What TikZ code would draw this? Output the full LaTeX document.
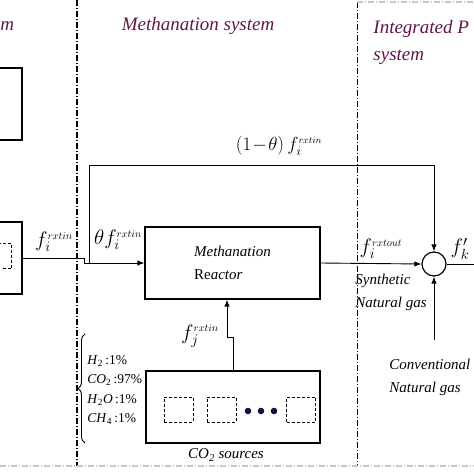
\RequirePackage{fix-cm}
\documentclass[tikz,border=0pt]{standalone}
\usepackage{fontspec}
\setmainfont{Liberation Serif}
\usepackage{amsmath}
\usetikzlibrary{arrows,arrows.meta,calc,positioning,decorations.pathreplacing}
\definecolor{sysred}{RGB}{98,22,72}
\definecolor{dotblue}{RGB}{12,20,70}

\begin{document}
\begin{tikzpicture}[x=1pt,y=-1pt,>={Latex[length=7pt,width=5.5pt]},line width=0.9pt]

   \tikzstyle{unit}=[draw,line width=1.3pt,inner sep=0pt]
   \tikzstyle{dbox}=[draw,densely dashed,line width=0.7pt,minimum width=29pt,minimum height=25pt,inner sep=0pt]
   \tikzstyle{title}=[text=sysred,font=\fontsize{19}{28}\selectfont\itshape,inner sep=0pt]
   \tikzstyle{flow}=[font=\fontsize{21}{24}\selectfont,inner sep=0pt]
   \tikzstyle{note}=[font=\fontsize{15}{23}\selectfont\itshape,align=left,inner sep=0pt]
   \tikzstyle{gas}=[font=\fontsize{13.5}{19.6}\selectfont,align=left,inner sep=0pt]
   \tikzstyle{divider}=[line width=1.2pt,dash pattern=on 6pt off 2pt on 1pt off 2pt]

   \useasboundingbox (0,0) rectangle (474,474);

   % system borders
   \draw[divider] (77,0) -- (77,466);
   \draw[divider,line width=0.9pt] (357,2) -- (357,466);
   \draw[divider,gray!45,line width=2pt] (0,466) -- (474,466);
   \draw[divider,gray!45,line width=2pt] (357,2) -- (474,2);

   % titles
   \node[title,anchor=west] at (0,26) (tleft){m};
   \node[title] at (198,26) (tmeth){Methanation system};
   \node[title,anchor=west] at (373,29) (tint){Integrated P};
   \node[title,anchor=west] at (373,57) (tsys){system};

   % units
   \node[unit,minimum width=62pt,minimum height=72pt] at (-9,104) (upA){};
   \node[unit,minimum width=62pt,minimum height=72pt] at (-9,258) (upB){};
   \node[dbox] at (-3,256) (upBin){};

   \node[unit,minimum width=175pt,minimum height=72pt,note,align=left] at (232.5,263) (reactor)
        {Methanation\\{\upshape Re}actor};

   \node[draw,circle,line width=1.2pt,minimum size=24pt,inner sep=0pt] at (434,264) (mixer){};

   \node[unit,minimum width=174pt,minimum height=72pt] at (233,407) (sources){};
   \node[dbox] at (178.5,409.5) (s1){};
   \node[dbox] at (221.5,409.5) (s2){};
   \node[dbox] at (301,409.5) (s3){};
   \foreach \x in {248,261,274}
      \fill[dotblue] (\x,411) circle (3.3pt);

   % streams
   \coordinate (step) at (84,258);
   \coordinate (split) at (89,263);
   \coordinate (bypass) at (89,165);
   \coordinate (outlet) at (480,264);
   \coordinate (ngin) at (434,340);
   \coordinate (jog) at (227,337);

   \draw (upB.east) -- (step) |- (split);
   \draw[->] (split) -- (reactor.west);
   \draw[->] (split) -- (bypass) -| (mixer.north);
   \draw[->] (reactor.east) -- (mixer.west);
   \draw (mixer.east) -- (outlet);
   \draw[->] (ngin) -- (mixer.south);
   \draw[->] (sources.north) |- (jog) -- (jog |- reactor.south);

   % stream labels
   \node[flow] at (54,242) (fin){$f_i^{\scriptscriptstyle rxtin}$};
   \node[flow] at (118,240) (fsplit){$\theta f_i^{\scriptscriptstyle rxtin}$};
   \node[flow,font=\fontsize{19}{24}\selectfont] at (279,146) (fbypass){$(1\!-\!\theta)\, f_i^{\scriptscriptstyle rxtin}$};
   \node[flow] at (381,249) (fout){$f_i^{\scriptscriptstyle rxtout}$};
   \node[flow] at (460,249) (fmix){$f_k^{\prime}$};
   \node[flow] at (200,336) (fco){$f_j^{\scriptscriptstyle rxtin}$};

   \node[note,anchor=west] at (355,292) (synlab){Synthetic\\Natural gas};
   \node[note,anchor=west] at (389,377) (conlab){Conventional\\Natural gas};
   \node[note] at (226,455) (srclab){CO\textsubscript{2} sources};

   % CO2 composition
   \draw[decorate,decoration={brace,amplitude=7pt}] (85,443) -- (85,334);
   \node[gas,anchor=west] at (87,390) (comp)
        {\textit{H}\textsubscript{2}\,:1\%\\
         \textit{CO}\textsubscript{2}\,:97\%\\
         \textit{H}\textsubscript{2}\textit{O}\,:1\%\\
         \textit{CH}\textsubscript{4}\,:1\%};

\end{tikzpicture}
\end{document}
